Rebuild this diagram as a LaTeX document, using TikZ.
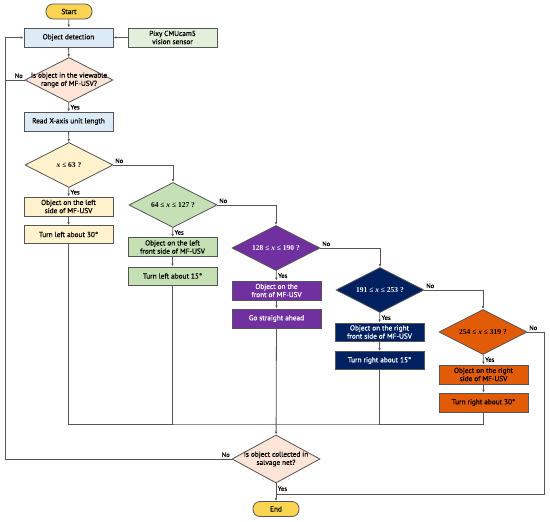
\documentclass[tikz,border=0pt]{standalone}
\usepackage{fontspec}
\setmainfont{Liberation Serif}
\setsansfont{PT Sans}[FakeBold=0.6]
\usetikzlibrary{arrows.meta,shapes.geometric}

\definecolor{termfill}{RGB}{250,212,82}
\definecolor{bluefill}{RGB}{221,235,247}
\definecolor{greenlt}{RGB}{226,239,218}
\definecolor{peachfill}{RGB}{252,228,214}
\definecolor{creamfill}{RGB}{255,242,204}
\definecolor{greenfill}{RGB}{197,224,180}
\definecolor{purplefill}{RGB}{112,48,160}
\definecolor{navyfill}{RGB}{0,32,96}
\definecolor{orangefill}{RGB}{226,92,8}
\definecolor{linegray}{RGB}{85,85,85}

\begin{document}
\begin{tikzpicture}[x=1pt, y=-1pt, line width=0.8pt, color=linegray,
      every node/.append style={font=\sffamily\fontsize{7.3}{8.2}\selectfont, text=black},
      arr/.style={-{Latex[length=3pt,width=2.5pt]}},
      box/.style={draw, rectangle, minimum width=89pt, minimum height=19pt, inner sep=0pt, align=center},
      term/.style={draw, rounded corners=7pt, fill=termfill, minimum width=46pt, minimum height=15pt, inner sep=0pt},
      dec/.style={draw, diamond, minimum width=88pt, minimum height=45pt, inner sep=0pt},
      cond/.style={font=\rmfamily\bfseries\fontsize{7.5}{9}\selectfont},
      yes/.style={anchor=west, inner sep=1.5pt, font=\sffamily\fontsize{6.5}{7}\selectfont},
      no/.style={inner sep=1.5pt, font=\sffamily\fontsize{6.5}{7}\selectfont}]
    \useasboundingbox (0,0) rectangle (550,522);

    % top part
    \node [term] (start) at (69,11.5) {Start};
    \node [box, fill=bluefill] (detect) at (68.5,37.5) {Object detection};
    \node [box, fill=greenlt] (pixy) at (172.5,37.5) {Pixy CMUcam5\\vision sensor};
    \node [dec, fill=peachfill, label={[align=center]center:Is object in the viewable\\range of MF-USV?}] (view) at (69,80) {};
    \node [box, fill=bluefill] (read) at (68.5,121.5) {Read X-axis unit length};
    \coordinate (loop) at (5,37.5);

    % column 1
    \node [dec, fill=creamfill, label={[cond]center:\textit{x} ≤ 63 ?}] (left) at (69,165) {};
    \node [box, fill=creamfill] (left_pos) at (68.5,206.5) {Object on the left\\side of MF-USV};
    \node [box, fill=creamfill, minimum height=18pt] (left_turn) at (68.5,234.5) {Turn left about 30°};

    % column 2
    \node [dec, fill=greenfill, label={[cond]center:64 ≤ \textit{x} ≤ 127 ?}] (lfront) at (173,205) {};
    \node [box, fill=greenfill] (lfront_pos) at (172.5,247) {Object on the left\\front side of MF-USV};
    \node [box, fill=greenfill, minimum height=18pt] (lfront_turn) at (172.5,276) {Turn left about 15°};

    % column 3
    \node [dec, fill=purplefill, label={[cond, text=white]center:128 ≤ \textit{x} ≤ 190 ?}] (front) at (276,248) {};
    \node [box, fill=purplefill, text=white] (front_pos) at (276.5,290.5) {Object on the\\front of MF-USV};
    \node [box, fill=purplefill, text=white] (front_go) at (276.5,318.5) {Go straight ahead};

    % column 4
    \node [dec, fill=navyfill, label={[cond, text=white]center:191 ≤ \textit{x} ≤ 253 ?}] (rfront) at (380,290) {};
    \node [box, fill=navyfill, text=white, minimum height=18pt] (rfront_pos) at (379.5,332) {Object on the right\\front side of MF-USV};
    \node [box, fill=navyfill, text=white, minimum height=18pt] (rfront_turn) at (379.5,360.5) {Turn right about 15°};

    % column 5
    \node [dec, fill=orangefill, label={[cond]center:254 ≤ \textit{x} ≤ 319 ?}] (right) at (483,332) {};
    \node [box, fill=orangefill] (right_pos) at (483.5,374.5) {Object on the right\\side of MF-USV};
    \node [box, fill=orangefill] (right_turn) at (483.5,402.5) {Turn right about 30°};

    % bottom part
    \coordinate (merge) at (276,424);
    \node [dec, fill=peachfill, minimum height=48pt, label={[align=center]center:Is object collected in\\salvage net?}] (salvage) at (276,459) {};
    \node [term] (end) at (276,509) {End};
    \coordinate (rside) at (544,494);
    \coordinate (join) at (276,494);

    \draw[arr] (start) -- (detect);
    \draw[arr] (pixy) -- (detect);
    \draw[arr] (detect) -- (view);
    \draw[arr] (view) -- node [yes] {Yes} (read);
    \draw (view.west) -- node [no, pos=0, anchor=south east] {No} (view.west -| loop);
    \draw[arr] (salvage.west) -| node [no, pos=0, anchor=south east] {No} (loop) -- (detect.west);
    \draw[arr] (read) -- (left);

    \draw[arr] (left) -- node [yes] {Yes} (left_pos);
    \draw[arr] (left_pos) -- (left_turn);
    \draw[arr] (left.east) -| node [no, pos=0, anchor=south west] {No} (lfront.north);
    \draw[arr] (lfront) -- node [yes] {Yes} (lfront_pos);
    \draw[arr] (lfront_pos) -- (lfront_turn);
    \draw[arr] (lfront.east) -| node [no, pos=0, anchor=south west] {No} (front.north);
    \draw[arr] (front) -- node [yes] {Yes} (front_pos);
    \draw[arr] (front_pos) -- (front_go);
    \draw[arr] (front.east) -| node [no, pos=0, anchor=south west] {No} (rfront.north);
    \draw[arr] (rfront) -- node [yes] {Yes} (rfront_pos);
    \draw[arr] (rfront_pos) -- (rfront_turn);
    \draw[arr] (rfront.east) -| node [no, pos=0, anchor=south west] {No} (right.north);
    \draw[arr] (right) -- node [yes] {Yes} (right_pos);
    \draw[arr] (right_pos) -- (right_turn);
    \draw (right.east) -| node [no, pos=0, anchor=south west] {No} (rside) -- (join);

    \draw (left_turn) |- (merge) -| (right_turn);
    \draw (lfront_turn) -- (lfront_turn |- merge);
    \draw (rfront_turn) -- (rfront_turn |- merge);
    \draw[arr] (front_go) -- (salvage);
    \draw[arr] (salvage) -- node [yes, pos=0.3] {Yes} (end);
  \end{tikzpicture}
\end{document}
